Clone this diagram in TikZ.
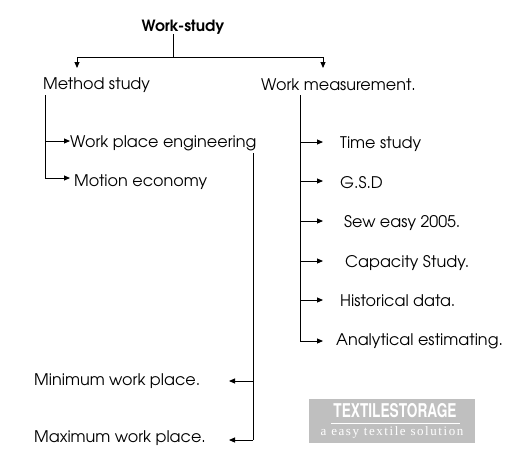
\documentclass[tikz,border=0pt]{standalone}
\usepackage{fontspec}
\setmainfont{TeX Gyre Adventor}
\newfontfamily\wmtitle{TeX Gyre Heros}
\newfontfamily\wmsub[LetterSpace=12]{Liberation Serif}
\usetikzlibrary{arrows.meta}
\begin{document}
\begin{tikzpicture}[x=1pt,y=-1pt,
  lbl/.style={anchor=west,inner sep=0pt,yshift=-2pt,font=\fontsize{16}{18}\selectfont},
  ln/.style={line width=0.9pt},
  arr/.style={line width=0.9pt,-{Triangle[length=6pt,width=5pt]}}]
\useasboundingbox (0,0) rectangle (513,460);
\node[inner sep=0pt,font=\fontsize{15.5}{18}\selectfont\bfseries] (ws) at (183,27) {Work-study};
\node[lbl] (ms) at (43,83) {Method study};
\node[lbl] (wm) at (261,83) {Work measurement.};
\node[lbl] (wpe) at (70,141) {Work place engineering};
\node[lbl] (me) at (74,180) {Motion economy};
\node[lbl] (t1) at (340,142) {Time study};
\node[lbl] (t2) at (340,181) {G.S.D};
\node[lbl] (t3) at (344,221) {Sew easy 2005.};
\node[lbl] (t4) at (345,261) {Capacity Study.};
\node[lbl] (t5) at (340,299) {Historical data.};
\node[lbl] (t6) at (336,339) {Analytical estimating.};
\node[lbl] (mn) at (34,379) {Minimum work place.};
\node[lbl] (mx) at (34,436) {Maximum work place.};
% top
\coordinate (hub) at (173,57);
\draw[ln] (ws.south -| hub) -- (hub);
\draw[arr] (hub) -| (77,68);
\draw[arr] (hub) -| (323,68);
% method study
\coordinate (ms0) at (45,95);
\coordinate (ms1) at (45,141);
\coordinate (ms2) at (45,178);
\draw[ln] (ms0) -- (ms2);
\draw[arr] (ms1) -- (wpe.west |- ms1);
\draw[arr] (ms2) -- ([xshift=-4pt]me.west |- ms2);
% work measurement
\coordinate (wm0) at (300,95);
\draw[ln] (wm0) -- (300,341);
\foreach \n/\yy in {t1/142,t2/181,t3/221,t4/261,t5/300,t6/341}{
  \draw[arr] (300,\yy) -- (323,\yy);
}
% work place engineering branch
\coordinate (w0) at (253,153);
\coordinate (w1) at (253,381);
\coordinate (w2) at (253,440);
\draw[ln] (w0) -- (w2);
\draw[arr] (w1) -- (229,381);
\draw[arr] (w2) -- (229,440);
% watermark
\fill[black!25] (309,399) rectangle (475,443);
\node[text=white,inner sep=0pt,xscale=0.72,font=\wmtitle\bfseries\fontsize{19}{19}\selectfont] (wt) at (395,411) {TEXTILESTORAGE};
\draw[white,line width=0.7pt] (331,423) -- (460,423);
\node[text=white,inner sep=0pt,font=\wmsub\fontsize{13}{13}\selectfont] (wsb) at (392,432) {a easy textile solution};
\end{tikzpicture}
\end{document}
